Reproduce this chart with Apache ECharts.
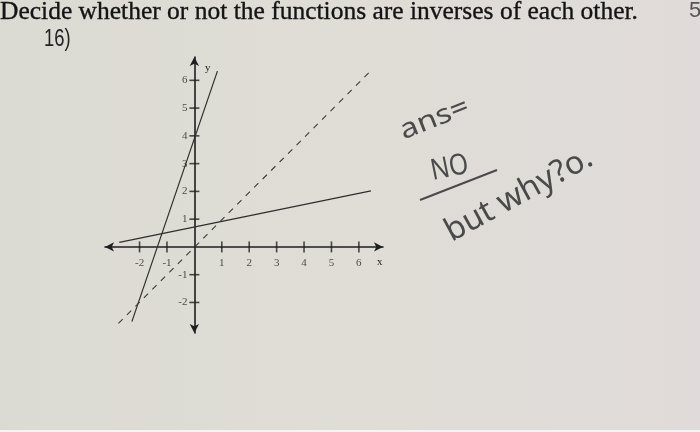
<!DOCTYPE html>
<html><head><meta charset="utf-8">
<script src="https://cdn.jsdelivr.net/npm/echarts@6/dist/echarts.min.js"></script>
<style>html,body{margin:0;padding:0;background:#dedcd5}#c{width:700px;height:432px}</style>
</head><body><div id="c"></div>
<script>
const xTickValues = [-2, -1, 1, 2, 3, 4, 5, 6];
const yTickValues = [-2, -1, 1, 2, 3, 4, 5, 6];
const steepLine = [[-2.28, -2.69], [0.84, 6.33]];
const shallowLine = [[-2.74, 0.16], [6.44, 2.02]];
const identityLine = [[-2.77, -2.75], [6.39, 6.30]];
const titleText = 'Decide whether or not the functions are inverses of each other.';
const problemLabel = '16)';
const noteLines = ['ans=', 'NO', 'but why?o.'];

const ink = '#1f1f1f';
const pencil = '#4a4a4a';
const chart = echarts.init(document.getElementById('c'));
const axisCommon = {
  type: 'value',
  axisLine: { onZero: true, lineStyle: { color: ink, width: 1.6 }, symbol: ['arrow', 'arrow'], symbolSize: [7, 9] },
  axisTick: { show: false },
  splitLine: { show: false },
  axisLabel: { show: false }
};
const tickLabel = { show: true, color: '#252525', fontFamily: 'Liberation Serif', fontSize: 11 };
chart.setOption({
  backgroundColor: {
    type: 'linear', x: 0, y: 0, x2: 1, y2: 0,
    colorStops: [{ offset: 0, color: '#dcdbd3' }, { offset: 0.5, color: '#dfddd6' }, { offset: 1, color: '#e0dbda' }]
  },
  animation: false,
  grid: { left: 105, right: 317, top: 57, bottom: 99, containLabel: false },
  xAxis: Object.assign({}, axisCommon, { min: -3.26, max: 6.88 }),
  yAxis: Object.assign({}, axisCommon, { min: -3.1, max: 6.84 }),
  series: [
    { type: 'line', data: steepLine, symbol: 'none', lineStyle: { color: '#2e2e2e', width: 1.2 }, silent: true },
    { type: 'line', data: shallowLine, symbol: 'none', lineStyle: { color: '#2e2e2e', width: 1.3 }, silent: true },
    { type: 'line', data: identityLine, symbol: 'none', lineStyle: { color: '#3a3a3a', width: 1.1, type: [6, 6] }, silent: true },
    { type: 'scatter', data: xTickValues.map(v => [v, 0]), symbol: 'rect', symbolSize: [1.6, 11], itemStyle: { color: ink }, silent: true,
      label: Object.assign({}, tickLabel, { position: 'bottom', distance: 5, formatter: p => String(p.value[0]) }) },
    { type: 'scatter', data: yTickValues.map(v => [0, v]), symbol: 'rect', symbolSize: [10, 1.6], itemStyle: { color: ink }, silent: true,
      label: Object.assign({}, tickLabel, { position: 'left', distance: 2, formatter: p => String(p.value[1]) }) }
  ],
  graphic: [
    { type: 'text', x: 0, y: 0, scaleX: 1.02, style: { text: titleText, font: '25px "Liberation Serif"', fill: '#141414', stroke: '#141414', lineWidth: 0.35 } },
    { type: 'text', x: 689, y: 0, style: { text: '5', font: '22px "Liberation Sans"', fill: '#555' } },
    { type: 'text', x: 44, y: 28, scaleX: 0.8, style: { text: problemLabel, font: '23px "Liberation Sans"', fill: '#222' } },
    { type: 'text', x: 205, y: 63, style: { text: 'y', font: '11px "Liberation Serif"', fill: '#222' } },
    { type: 'text', x: 377, y: 257, style: { text: 'x', font: '11px "Liberation Serif"', fill: '#222' } },
    { type: 'text', x: 406, y: 145, rotation: 0.38, scaleX: 1.2, style: { text: noteLines[0], font: '27px "Noto Sans"', fill: pencil, textVerticalAlign: 'bottom' } },
    { type: 'text', x: 434, y: 186, rotation: 0.2, scaleX: 0.85, style: { text: noteLines[1], font: '29px "Noto Sans"', fill: pencil, textVerticalAlign: 'bottom' } },
    { type: 'line', shape: { x1: 420, y1: 200, x2: 497, y2: 170 }, style: { stroke: pencil, lineWidth: 2 } },
    { type: 'text', x: 455, y: 248, rotation: 0.5, scaleX: 1.0, style: { text: noteLines[2], font: '32px "Noto Sans"', fill: pencil, textVerticalAlign: 'bottom' } },
    { type: 'rect', shape: { x: 0, y: 430, width: 700, height: 2 }, style: { fill: '#f4f4f4' } }
  ]
});
</script></body></html>
